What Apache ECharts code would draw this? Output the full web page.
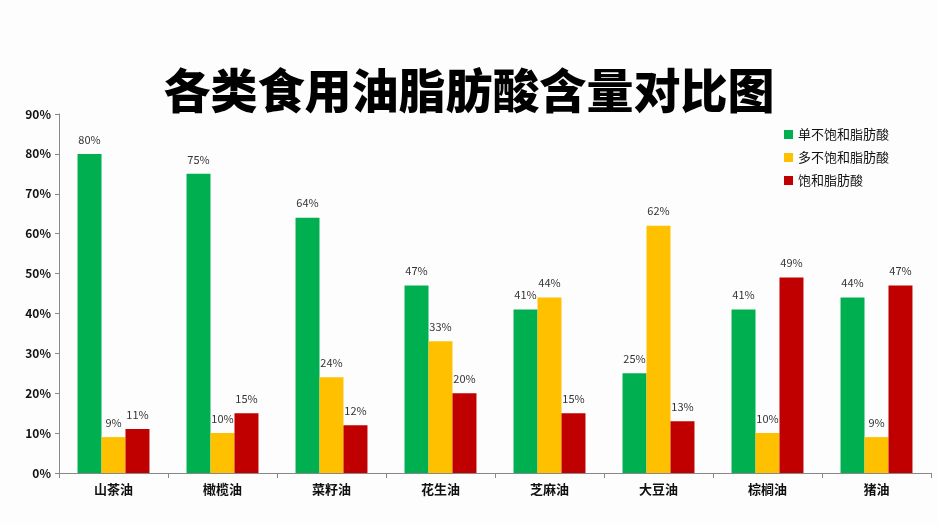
<!DOCTYPE html>
<html>
<head>
<meta charset="utf-8">
<script src="https://cdn.jsdelivr.net/npm/echarts@6/dist/echarts.min.js"></script>
<style>
    html, body { margin: 0; padding: 0; background: #fdfdfd; }
    #chart { width: 938px; height: 524px; }
</style>
</head>
<body>
<div id="chart"></div>
<script>
// Data
var categories = ['山茶油', '橄榄油', '菜籽油', '花生油', '芝麻油', '大豆油', '棕榈油', '猪油'];
var monoUnsat = [80, 75, 64, 47, 41, 25, 41, 44];
var polyUnsat = [9, 10, 24, 33, 44, 62, 10, 9];
var saturated = [11, 15, 12, 20, 15, 13, 49, 47];
var seriesNames = ['单不饱和脂肪酸', '多不饱和脂肪酸', '饱和脂肪酸'];

var chart = echarts.init(document.getElementById('chart'));

var labelStyle = {
    show: true,
    position: 'top',
    distance: 9,
    formatter: '{c}%',
    color: '#333',
    fontSize: 11,
    fontFamily: '"Noto Sans CJK SC", sans-serif'
};

chart.setOption({
    backgroundColor: '#fdfdfd',
    color: ['#00b050', '#ffc000', '#c00000'],
    textStyle: {
        fontFamily: '"Noto Sans CJK SC", sans-serif'
    },
    title: {
        text: '各类食用油脂肪酸含量对比图',
        left: 'center',
        top: 62,
        textStyle: {
            fontSize: 47,
            fontWeight: 900,
            color: '#000',
            fontFamily: '"Noto Sans CJK SC", sans-serif'
        }
    },
    legend: {
        orient: 'vertical',
        left: 779,
        top: 123,
        itemWidth: 9,
        itemHeight: 9,
        itemGap: 10,
        icon: 'rect',
        data: seriesNames,
        textStyle: {
            fontSize: 13,
            color: '#111'
        }
    },
    grid: {
        left: 59,
        right: 7,
        top: 114,
        bottom: 51,
        containLabel: false
    },
    xAxis: {
        type: 'category',
        data: categories,
        axisLine: { lineStyle: { color: '#888', width: 1 } },
        axisTick: { show: true, length: 5, lineStyle: { color: '#888' } },
        axisLabel: {
            color: '#111',
            fontSize: 13,
            fontWeight: 'bold',
            margin: 10
        }
    },
    yAxis: {
        type: 'value',
        min: 0,
        max: 90,
        interval: 10,
        axisLine: { show: true, lineStyle: { color: '#888', width: 1 } },
        axisTick: { show: true, length: 4, lineStyle: { color: '#888' } },
        splitLine: { show: false },
        axisLabel: {
            formatter: '{value}%',
            color: '#111',
            fontSize: 12,
            fontWeight: 'bold',
            margin: 8
        }
    },
    series: [
        { name: seriesNames[0], type: 'bar', data: monoUnsat, barGap: '0%', barCategoryGap: '34%', label: labelStyle },
        { name: seriesNames[1], type: 'bar', data: polyUnsat, barGap: '0%', barCategoryGap: '34%', label: labelStyle },
        { name: seriesNames[2], type: 'bar', data: saturated, barGap: '0%', barCategoryGap: '34%', label: labelStyle }
    ]
});
</script>
</body>
</html>
